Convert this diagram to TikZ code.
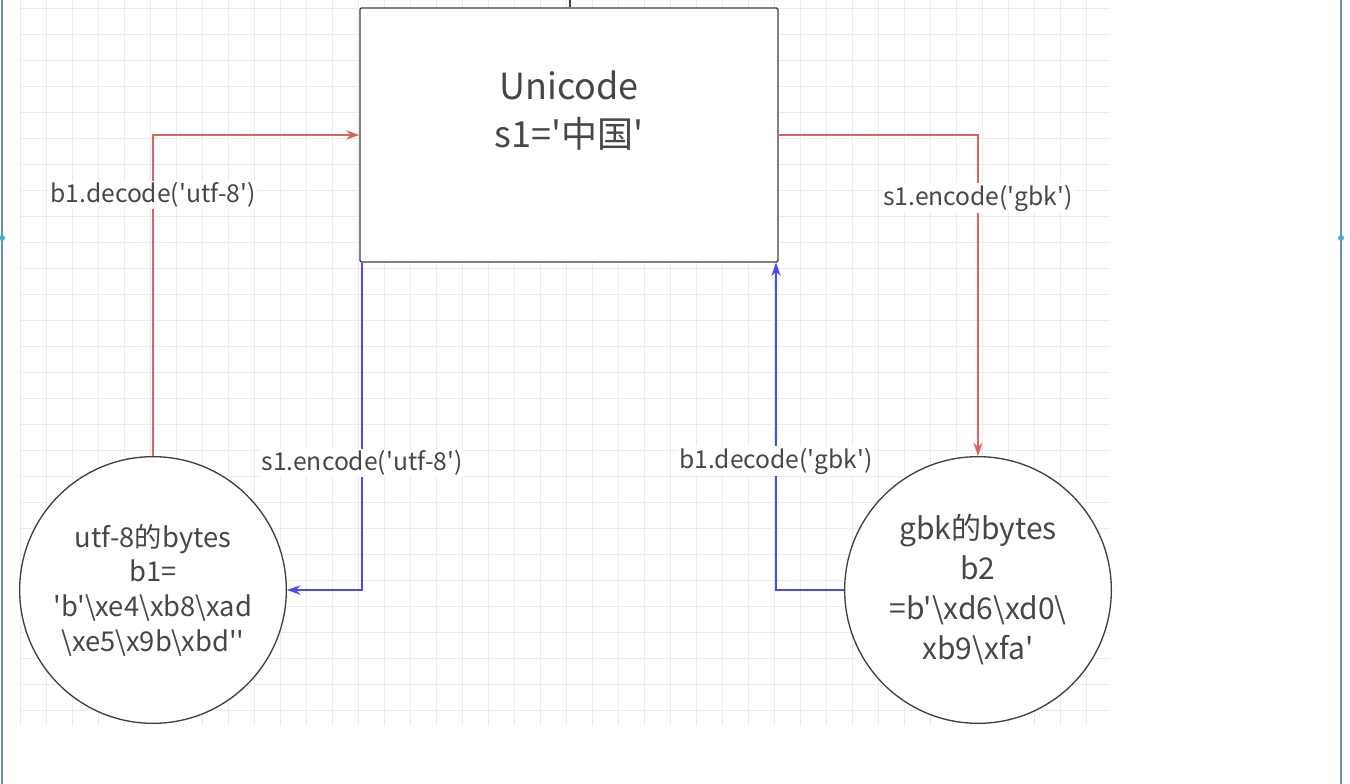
\documentclass[tikz,border=0pt]{standalone}
\usepackage{fontspec}
\setmainfont{Noto Sans CJK SC}[Ligatures=TeXOff]
\usetikzlibrary{arrows.meta}
\definecolor{redl}{HTML}{D9655B}
\definecolor{bluel}{HTML}{4A4AF0}
\definecolor{txt}{HTML}{474747}
\definecolor{gridc}{HTML}{EBEBEB}
\definecolor{frame}{HTML}{6A8DB5}
\begin{document}
\begin{tikzpicture}[x=0.75pt,y=-0.75pt,
  lbl/.style={text=txt,font=\fontsize{18.5}{20}\selectfont,fill=white,inner sep=1pt},
  redarr/.style={draw=redl,line width=1pt,-{Stealth[length=10pt,width=7pt]}},
  bluearr/.style={draw=bluel,line width=1.5pt,-{Stealth[length=10pt,width=7pt]}},
  circ/.style={circle,draw=black!75,line width=1pt,minimum size=200pt,fill=white,text=txt,align=center,inner sep=0pt}]
\useasboundingbox (0,0) rectangle (1350,784);
\fill[white] (0,0) rectangle (1350,784);
\foreach \x in {20,46,...,1110} \draw[gridc,line width=0.5pt] (\x,0) -- (\x,725);
\foreach \y in {8,34,...,725} \draw[gridc,line width=0.5pt] (20,\y) -- (1110,\y);
\draw[frame,line width=2pt] (2,0) -- (2,784);
\draw[frame,line width=2pt] (1341,0) -- (1341,784);
\fill[frame!70!cyan] (1341,238) circle (3);
\fill[frame!70!cyan] (2,238) circle (3);
\node[draw=black!75,line width=1pt,fill=white,minimum width=313.5pt,minimum height=190.5pt,rounded corners=1pt] (u) at (569,135) {};
\node[text=txt,font=\fontsize{27}{36}\selectfont,align=center] (ut) at (569,111) {Unicode\\s1='中国'};
\coordinate (top) at (570,0);
\draw[black!75,line width=1pt] (top) -- (u.north -| top);
\node[circ,font=\fontsize{20.5}{26}\selectfont] (c1) at (153,590) {utf-8的bytes\\b1=\\'b'\textbackslash xe4\textbackslash xb8\textbackslash xad\\\textbackslash xe5\textbackslash x9b\textbackslash xbd''};
\node[circ,font=\fontsize{22.5}{30}\selectfont] (c2) at (978,590) {gbk的bytes\\b2\\=b'\textbackslash xd6\textbackslash xd0\textbackslash\\xb9\textbackslash xfa'};
\coordinate (a1) at (153,135);
\coordinate (a2) at (978,135);
\coordinate (b1) at (362,590);
\coordinate (b2) at (776,590);
\draw[redarr] (c1.north) -- (a1) -- (a1 -| u.west);
\draw[redarr] (a2 -| u.east) -- (a2) -- (c2.north);
\draw[bluearr] (b1 |- u.south) -- (b1) -- (c1.east);
\draw[bluearr] (c2.west) -- (b2) -- (b2 |- u.south);
\node[lbl] at (153,195) {b1.decode('utf-8')};
\node[lbl] at (978,198) {s1.encode('gbk')};
\node[lbl] at (362,463) {s1.encode('utf-8')};
\node[lbl] at (776,461) {b1.decode('gbk')};
\end{tikzpicture}
\end{document}
